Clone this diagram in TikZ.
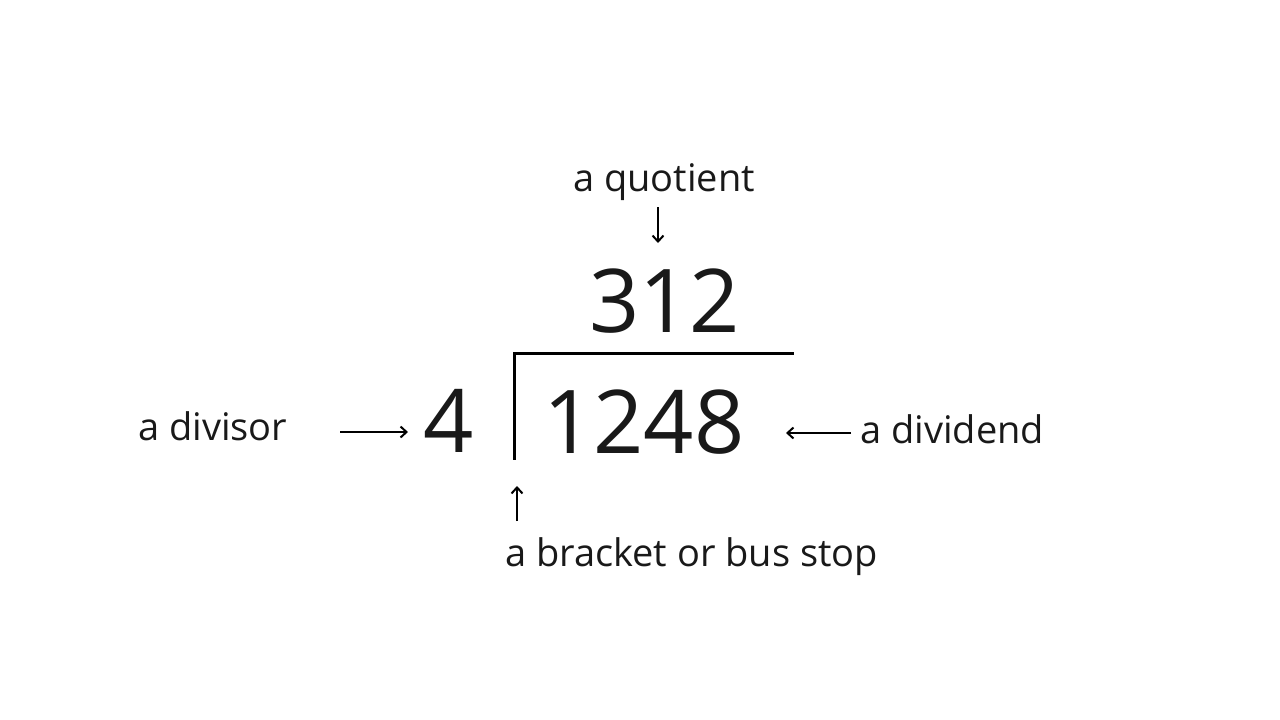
\documentclass[tikz,border=0pt]{standalone}
\usepackage{fontspec}
\setmainfont{Open Sans}
\usetikzlibrary{arrows.meta}

\begin{document}
\begin{tikzpicture}
        [ x=1pt, y=-1pt,
          every node/.style = {inner sep=0pt, anchor=base west, text=black!90},
          term node/.style = {font=\fontsize{38}{44}\selectfont},
          digit node/.style = {font=\fontsize{88}{100}\selectfont},
          pointer/.style = {line width=2pt, -{Straight Barb[length=6pt,width=11pt]}},
          bracket line/.style = {line width=3pt, line cap=rect}]
        \useasboundingbox (0,0) rectangle (1280,720);
        % the numbers
        \node[digit node] (quotient) at (589,332) {312};
        \node[digit node] (divisor) at (423,452) {4};
        \node[digit node] (dividend) at (543,453) {1248};
        % the bracket
        \coordinate (bracket foot) at (514,458);
        \coordinate (bracket corner) at (514,353);
        \coordinate (bracket end) at (792,353);
        \draw[bracket line] (bracket foot) -- (bracket corner) -- (bracket end);
        % the terms
        \node[term node] (quotient term) at (573,191) {a quotient};
        \node[term node] (divisor term) at (138,440) {a divisor};
        \node[term node] (dividend term) at (860,443) {a dividend};
        \node[term node] (bracket term) at (505,566) {a bracket or bus stop};
        % the pointers
        \coordinate (quotient tail) at (658,207);
        \coordinate (quotient tip) at (658,243);
        \coordinate (divisor tail) at (340,432);
        \coordinate (divisor tip) at (408,432);
        \coordinate (dividend tail) at (851,433);
        \coordinate (dividend tip) at (786,433);
        \coordinate (bracket tail) at (517,521);
        \coordinate (bracket tip) at (517,486);
        \draw[pointer] (quotient tail) -- (quotient tip);
        \draw[pointer] (divisor tail) -- (divisor tip);
        \draw[pointer] (dividend tail) -- (dividend tip);
        \draw[pointer] (bracket tail) -- (bracket tip);
    \end{tikzpicture}
\end{document}
